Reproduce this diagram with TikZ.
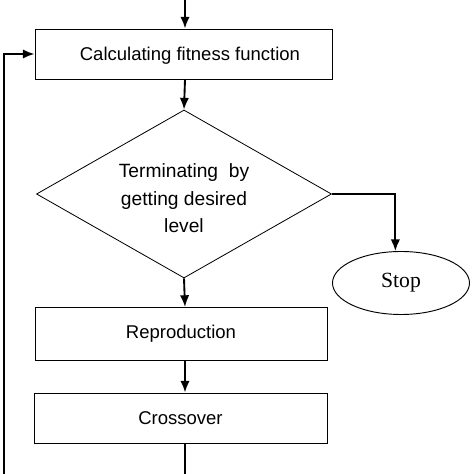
\documentclass[tikz,border=0pt]{standalone}
\usepackage{fontspec}
\setmainfont{Liberation Sans}
\newfontfamily\stopfont{Liberation Serif}
\usetikzlibrary{shapes.geometric,arrows.meta}

\begin{document}
\begin{tikzpicture}[x=0.03cm,y=0.03cm]
		\tikzstyle{every node}+=[font=\fontsize{15.8}{23}\selectfont]
		\tikzstyle{stepbox}=[draw,rectangle,line width=0.8pt,inner sep=0pt,minimum height=1.5cm]
		\tikzstyle{flow}=[-{Latex[length=10pt,width=8pt]},line width=1.6pt]
		\useasboundingbox (0,0) rectangle (474,474);
		\node[stepbox,minimum width=8.91cm,text depth=0pt] (calc) at (183.5,420) {\hspace{11pt}Calculating fitness function};
		\node[draw,diamond,line width=0.7pt,inner sep=0pt,aspect=1.75,minimum width=8.85cm,minimum height=5.04cm,font=\fontsize{16.4}{23.5}\selectfont] (term) at (184,280)
			{\raisebox{-5pt}[\height][\depth]{\begin{tabular}{@{}c@{}}Terminating\ \ by\\getting desired\\level\end{tabular}}};
		\node[draw,ellipse,line width=0.8pt,minimum width=4.11cm,minimum height=1.89cm,font=\stopfont\fontsize{18.5}{20}\selectfont] (stop) at (401,191) {Stop};
		\node[stepbox,minimum width=8.76cm,minimum height=1.59cm] (repro) at (181,140) {Reproduction};
		\node[stepbox,minimum width=8.79cm] (cross) at (180.5,56) {Crossover};
		\coordinate (in) at (185,474);
		\coordinate (out) at (185,0);
		\coordinate (back) at (4,0);
		\draw[flow] (in) -- (calc.north -| in);
		\draw[flow] (calc.south -| in) -- (term.north);
		\draw[flow] (term.east) -| (stop.100);
		\draw[flow] (term.south) -- (repro.north -| in);
		\draw[flow] (repro.south -| in) -- (cross.north -| in);
		\draw[line width=1.6pt] (cross.south -| in) -- (out);
		\draw[flow] (back) |- (calc.west);
		\end{tikzpicture}
\end{document}
